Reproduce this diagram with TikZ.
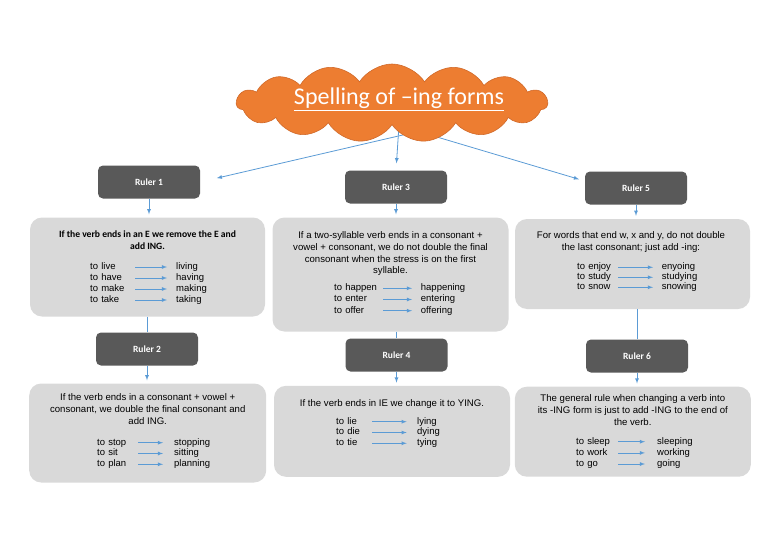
\documentclass[tikz,border=0pt]{standalone}
\usepackage{fontspec}
\setmainfont{Liberation Sans}
\newfontfamily\calibri{Carlito}
\usepackage{tikz}
\usetikzlibrary{shapes.symbols}
\usetikzlibrary{backgrounds}

\definecolor{cloudorange}{HTML}{ED7D31}
\definecolor{cloudedge}{HTML}{D0692A}
\definecolor{rulergray}{HTML}{595959}
\definecolor{boxgray}{HTML}{D9D9D9}
\definecolor{linkblue}{HTML}{5B9BD5}

\newcommand{\titlefont}{\calibri\fontsize{24}{28}\selectfont}
\newcommand{\rulerfont}{\calibri\bfseries\fontsize{9.5}{11}\selectfont}
\newcommand{\headfont}{\fontsize{9.6}{11.7}\selectfont}
\newcommand{\boldhead}{\calibri\bfseries\fontsize{9.6}{11.7}\selectfont}
\newcommand{\wordfont}{\fontsize{9.5}{11}\selectfont}

\begin{document}
\begin{tikzpicture}[x=1pt, y=-1pt,
    ruler/.style={rectangle, rounded corners=5pt, fill=rulergray, text=white, font=\rulerfont,
        minimum width=102pt, minimum height=33pt, inner sep=0},
    rulebox/.style={rectangle, rounded corners=12pt, fill=boxgray, inner sep=0},
    rulehead/.style={anchor=north, align=center, inner sep=0, font=\headfont},
    verb/.style={anchor=west, align=left, inner sep=0, font=\wordfont, text height=6.5pt, text depth=1.8pt},
    ing/.style={anchor=west, inner ysep=0, font=\wordfont, text height=6.5pt, text depth=1.8pt},
    link/.style={draw=linkblue, line width=0.8pt},
    wordarrow/.style={link, -latex}]

    \useasboundingbox (0,0) rectangle (768,543);

    \node[cloud, cloud puffs=15, cloud puff arc=115, cloud ignores aspect, fill=cloudorange,
        draw=cloudedge, line width=0.6pt, minimum width=311pt, minimum height=78pt] (cloud) at (392,103) {};
    \node[font=\titlefont, text=white] (title) at (399,99) {\underline{Spelling of –ing forms}};

    \node[ruler] (r1) at (149,182) {Ruler 1};
    \node[ruler] (r3) at (396,187) {Ruler 3};
    \node[ruler] (r5) at (636,188) {Ruler 5};
    \node[ruler] (r2) at (147,349) {Ruler 2};
    \node[ruler] (r4) at (396.5,355) {Ruler 4};
    \node[ruler] (r6) at (637,356) {Ruler 6};

    \node[rulebox, minimum width=235pt, minimum height=99pt] (box1) at (147.5,267) {};
    \node[rulebox, minimum width=236pt, minimum height=114pt] (box3) at (390.5,274.5) {};
    \node[rulebox, minimum width=235pt, minimum height=90pt] (box5) at (632.5,264) {};
    \node[rulebox, minimum width=237pt, minimum height=99pt] (box2) at (147.7,433) {};
    \node[rulebox, minimum width=236pt, minimum height=91pt] (box4) at (392,431.3) {};
    \node[rulebox, minimum width=236pt, minimum height=90pt] (box6) at (632.8,431.7) {};

    \node[rulehead, font=\boldhead] (head1) at (147.5,230.5) {If the verb ends in an E we remove the E and\\add ING.};
    \node[rulehead] (head3) at (390.5,231.5) {If a two-syllable verb ends in a consonant +\\vowel + consonant, we do not double the final\\consonant when the stress is on the first\\syllable.};
    \node[rulehead] (head5) at (631,231.5) {For words that end w, x and y, do not double\\the last consonant; just add -ing:};
    \node[rulehead] (head2) at (147.7,393.5) {If the verb ends in a consonant + vowel +\\consonant, we double the final consonant and\\add ING.};
    \node[rulehead] (head4) at (392,399.5) {If the verb ends in IE we change it to YING.};
    \node[rulehead] (head6) at (632.8,394.5) {The general rule when changing a verb into\\its -ING form is just to add -ING to the end of\\the verb.};

    \node[verb, text width=45pt] (live) at (90,267) {to live};
    \node[verb, text width=45pt] (have) at (90,278) {to have};
    \node[verb, text width=45pt] (make) at (90,289) {to make};
    \node[verb, text width=45pt] (take) at (90,300) {to take};
    \node[ing, inner xsep=9pt] (living) at (167,267) {living};
    \node[ing, inner xsep=9pt] (having) at (167,278) {having};
    \node[ing, inner xsep=9pt] (making) at (167,289) {making};
    \node[ing, inner xsep=9pt] (taking) at (167,300) {taking};

    \node[verb, text width=49pt] (happen) at (334,288.3) {to happen};
    \node[verb, text width=49pt] (enter) at (334,299.5) {to enter};
    \node[verb, text width=49pt] (offer) at (334,310.7) {to offer};
    \node[ing, inner xsep=8.7pt] (happening) at (412,288.3) {happening};
    \node[ing, inner xsep=8.7pt] (entering) at (412,299.5) {entering};
    \node[ing, inner xsep=8.7pt] (offering) at (412,310.7) {offering};

    \node[verb, text width=41pt] (enjoy) at (577,267.3) {to enjoy};
    \node[verb, text width=41pt] (study) at (577,277.3) {to study};
    \node[verb, text width=41pt] (snow) at (577,287.3) {to snow};
    \node[ing, inner xsep=8.7pt] (enyoing) at (653,267.3) {enyoing};
    \node[ing, inner xsep=8.7pt] (studying) at (653,277.3) {studying};
    \node[ing, inner xsep=8.7pt] (snowing) at (653,287.3) {snowing};

    \node[verb, text width=41pt] (stop) at (97,442.7) {to stop};
    \node[verb, text width=41pt] (sit) at (97,453.5) {to sit};
    \node[verb, text width=41pt] (plan) at (97,464.3) {to plan};
    \node[ing, inner xsep=11pt] (stopping) at (163,442.7) {stopping};
    \node[ing, inner xsep=11pt] (sitting) at (163,453.5) {sitting};
    \node[ing, inner xsep=11pt] (planning) at (163,464.3) {planning};

    \node[verb, text width=35.7pt] (lie) at (336,421.7) {to lie};
    \node[verb, text width=35.7pt] (die) at (336,432.5) {to die};
    \node[verb, text width=35.7pt] (tie) at (336,443.3) {to tie};
    \node[ing, inner xsep=10.3pt] (lying) at (406.7,421.7) {lying};
    \node[ing, inner xsep=10.3pt] (dying) at (406.7,432.5) {dying};
    \node[ing, inner xsep=10.3pt] (tying) at (406.7,443.3) {tying};

    \node[verb, text width=42pt] (sleep) at (576,441.7) {to sleep};
    \node[verb, text width=42pt] (work) at (576,452.9) {to work};
    \node[verb, text width=42pt] (go) at (576,464) {to go};
    \node[ing, inner xsep=12pt] (sleeping) at (645,441.7) {sleeping};
    \node[ing, inner xsep=12pt] (working) at (645,452.9) {working};
    \node[ing, inner xsep=12pt] (going) at (645,464) {going};

    \foreach \a/\b in {live/living, have/having, make/making, take/taking,
        happen/happening, enter/entering, offer/offering,
        enjoy/enyoing, study/studying, snow/snowing,
        stop/stopping, sit/sitting, plan/planning,
        lie/lying, die/dying, tie/tying,
        sleep/sleeping, work/working, go/going}
        \draw[wordarrow] (\a) -- (\b);

    % links leave from under the cloud
    \begin{scope}[on background layer]
        \draw[link, -latex, shorten >=17pt] ([xshift=28pt, yshift=-28pt]cloud.center) -- (r1.east);
        \draw[link, -latex, shorten >=7pt] ([xshift=7pt, yshift=-22pt]cloud.center) -- (r3.north);
        \draw[link, -latex, shorten >=6pt] ([xshift=8pt, yshift=-23pt]cloud.center) -- ([yshift=7pt]r5.west);
    \end{scope}

    \draw[link, -latex, shorten >=3pt] (r1.south) -- (r1.south |- box1.north);
    \draw[link] (box1.south) -- (box1.south |- r2.north);
    \draw[link, -latex, shorten >=3pt] (r2.south) -- (r2.south |- box2.north);
    \draw[link, -latex, shorten >=3pt] (r3.south) -- (r3.south |- box3.north);
    \draw[link] (r4.north |- box3.south) -- (r4.north);
    \draw[link, -latex, shorten >=3pt] (r4.south) -- (r4.south |- box4.north);
    \draw[link, -latex, shorten >=3pt] (r5.south) -- (r5.south |- box5.north);
    \draw[link] (r6.north |- box5.south) -- (r6.north);
    \draw[link, -latex, shorten >=3pt] (r6.south) -- (r6.south |- box6.north);
\end{tikzpicture}
\end{document}
